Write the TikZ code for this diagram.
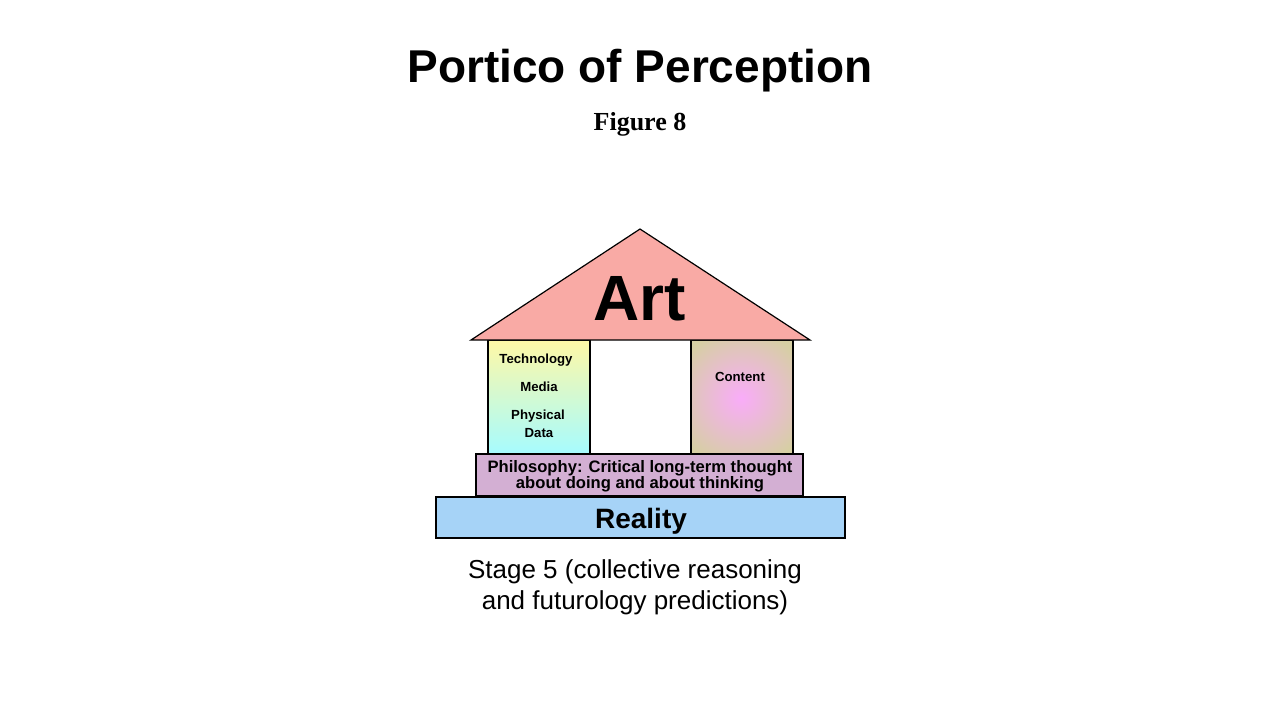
\documentclass[tikz,border=0pt]{standalone}
\usepackage{fontspec}
\setmainfont{Liberation Sans}
\newfontfamily\figfont{Liberation Serif}
\usepackage{tikz}

\definecolor{roofpink}{HTML}{F9AAA5}
\definecolor{techyellow}{HTML}{FFF8A6}
\definecolor{mediagreen}{HTML}{DDF9C4}
\definecolor{datacyan}{HTML}{A6FBFF}
\definecolor{contentkhaki}{HTML}{D6CFA3}
\definecolor{contentpink}{HTML}{F9ACF9}
\definecolor{philopurple}{HTML}{D3AFD3}
\definecolor{realityblue}{HTML}{A6D3F7}

\begin{document}
\begin{tikzpicture}[x=0.5pt,y=-0.5pt,line width=0.6pt,
              small/.style={anchor=base,font=\fontsize{6.6}{8}\selectfont\bfseries}]
              \useasboundingbox (0,0) rectangle (1280,720);

              \node(title) at (640,82) [anchor=base,font=\fontsize{23}{27}\selectfont\bfseries] {Portico of Perception};
              \node(fig) at (640,130) [anchor=base,font=\fontsize{13}{15}\selectfont\figfont\bfseries] {Figure 8};

              % columns
              \draw[top color=techyellow, middle color=mediagreen, bottom color=datacyan] (488,340) rectangle (590,454);
              \draw[fill=contentkhaki] (691,340) rectangle (793,454);
              \begin{scope}
                \clip (691,340) rectangle (793,454);
                \shade[inner color=contentpink, outer color=contentkhaki] (741,398) circle (70);
              \end{scope}
              \draw (691,340) rectangle (793,454);

              % roof
              \draw[fill=roofpink] (471,340) -- (640,229) -- (810,340) -- cycle;
              \node(art) at (640,320) [anchor=base,font=\fontsize{32}{36}\selectfont\bfseries] {Art};

              \node(tech) at (536,363) [small] {Technology};
              \node(media) at (539,391) [small] {Media};
              \node(phys) at (538,419) [small] {Physical};
              \node(data) at (539,437) [small] {Data};
              \node(content) at (740,381) [small] {Content};

              % base
              \draw[fill=philopurple] (476,454) rectangle (803,496);
              \node(philo) at (640,476) [align=center,font=\fontsize{8.3}{8}\selectfont\bfseries] {Philosophy: Critical long-term thought\\about doing and about thinking};
              \draw[fill=realityblue] (436,497) rectangle (845,538);
              \node(reality) at (641,528) [anchor=base,font=\fontsize{14}{16}\selectfont\bfseries] {Reality};

              \node(stage) at (635,587) [align=center,font=\fontsize{13}{15.5}\selectfont] {Stage 5 (collective reasoning\\and futurology predictions)};
             \end{tikzpicture}
\end{document}
